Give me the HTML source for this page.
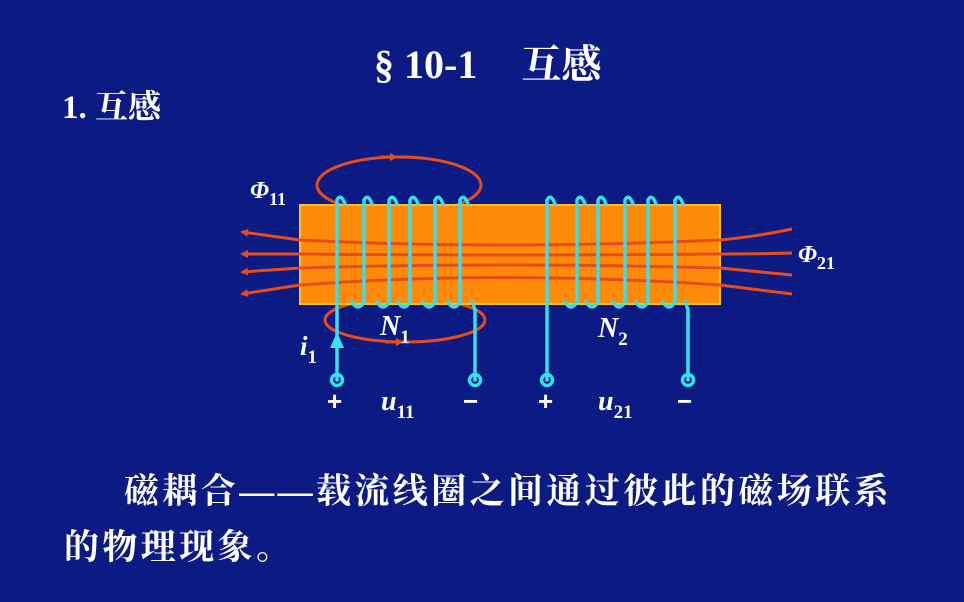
<!DOCTYPE html>
<html><head><meta charset="utf-8"><style>
html,body{margin:0;padding:0}
body{width:964px;height:602px;background:#0c1a84;position:relative;overflow:hidden;font-family:"Liberation Serif","Noto Serif CJK SC",serif;color:#fff;font-weight:bold}
.t{position:absolute;white-space:nowrap}
</style></head><body>
<div class="t" style="left:374px;top:33px;font-size:40px;">§ 10-1<span style="display:inline-block;width:44px"></span>互感</div>
<div class="t" style="left:62px;top:81px;font-size:33px;">1. 互感</div>
<div class="t" style="left:124px;top:464px;font-size:35px;letter-spacing:3.4px;">磁耦合——载流线圈之间通过彼此的磁场联系</div>
<div class="t" style="left:64px;top:520px;font-size:35px;letter-spacing:3.4px;">的物理现象。</div>
<svg width="964" height="602" style="position:absolute;left:0;top:0">
<defs><marker id="a" markerWidth="8" markerHeight="8" refX="6" refY="4" orient="auto" markerUnits="userSpaceOnUse"><path d="M0,0 L8,4 L0,8 Z" fill="#e84a1a"/></marker></defs>
<ellipse cx="399" cy="185" rx="82" ry="28" fill="none" stroke="#e84a1a" stroke-width="3"/>
<path d="M380,157 L396,157" stroke="#e84a1a" stroke-width="3" marker-end="url(#a)"/>
<ellipse cx="405" cy="320" rx="80" ry="22" fill="none" stroke="#e84a1a" stroke-width="3"/>
<path d="M385,342 L402,342" stroke="#e84a1a" stroke-width="3" marker-end="url(#a)"/>
<rect x="300" y="205" width="420" height="99" fill="#ff8a0a" stroke="#f8c020" stroke-width="2"/>
<g stroke="#e84a1a" stroke-width="3" fill="none">
<path d="M300,240 Q500,250 720,240 Q760,236 792,229"/>
<path d="M300,254 Q500,256 720,254 Q760,254 792,253"/>
<path d="M300,268 Q500,262 720,268 Q760,272 792,275"/>
<path d="M300,285 Q500,270 720,285 Q760,290 792,294"/>
<path d="M300,240 L242,232" marker-end="url(#a)"/>
<path d="M300,254 L242,254" marker-end="url(#a)"/>
<path d="M300,268 L242,272" marker-end="url(#a)"/>
<path d="M300,285 L242,294" marker-end="url(#a)"/>
</g>
<g stroke="#33e0f0" stroke-width="3.5" fill="none" stroke-linecap="round">
<path d="M337,380 V200 Q341,193 345,204"/>
<path d="M364,302 V200 Q368,193 372,204 M352,302 Q358,312 364,302"/>
<path d="M389,302 V200 Q393,193 397,204 M377,302 Q383,312 389,302"/>
<path d="M410,302 V200 Q414,193 418,204 M398,302 Q404,312 410,302"/>
<path d="M435,302 V200 Q439,193 443,204 M423,302 Q429,312 435,302"/>
<path d="M460,302 V200 Q464,193 468,204 M448,302 Q454,312 460,302"/>
<path d="M475,310 V380 M472,302 Q474,306 475,310"/>
<path d="M547,380 V200 Q551,193 555,204"/>
<path d="M577,302 V200 Q581,193 585,204 M565,302 Q571,312 577,302"/>
<path d="M598,302 V200 Q602,193 606,204 M586,302 Q592,312 598,302"/>
<path d="M625,302 V200 Q629,193 633,204 M613,302 Q619,312 625,302"/>
<path d="M648,302 V200 Q652,193 656,204 M636,302 Q642,312 648,302"/>
<path d="M675,302 V200 Q679,193 683,204 M663,302 Q669,312 675,302"/>
<path d="M688,310 V380 M685,302 Q687,306 688,310"/>
<circle cx="337" cy="380" r="5.5"/><circle cx="475" cy="380" r="5.5"/>
<circle cx="547" cy="380" r="5.5"/><circle cx="688" cy="380" r="5.5"/>
</g>
<path d="M337,332 L330,348 L344,348 Z" fill="#33e0f0"/>
<g fill="#fff" font-family="Liberation Serif,serif" font-weight="bold" font-style="italic">
<text x="250" y="198" font-size="24">Φ<tspan font-size="18" dy="7" font-style="normal">11</tspan></text>
<text x="798" y="262" font-size="24">Φ<tspan font-size="18" dy="7" font-style="normal">21</tspan></text>
<text x="380" y="335" font-size="28">N<tspan font-size="19" dy="8" font-style="normal">1</tspan></text>
<text x="598" y="337" font-size="28">N<tspan font-size="19" dy="8" font-style="normal">2</tspan></text>
<text x="300" y="355" font-size="27">i<tspan font-size="19" dy="8" font-style="normal">1</tspan></text>
<text x="381" y="410" font-size="28">u<tspan font-size="19" dy="8" font-style="normal">11</tspan></text>
<text x="598" y="410" font-size="28">u<tspan font-size="19" dy="8" font-style="normal">21</tspan></text>
</g>
<g fill="#fff" font-family="Liberation Sans,sans-serif" font-size="26">
<text x="327" y="410">+</text><text x="538" y="410">+</text>
<text x="463" y="410">−</text><text x="677" y="410">−</text>
</g>
</svg>
</body></html>
